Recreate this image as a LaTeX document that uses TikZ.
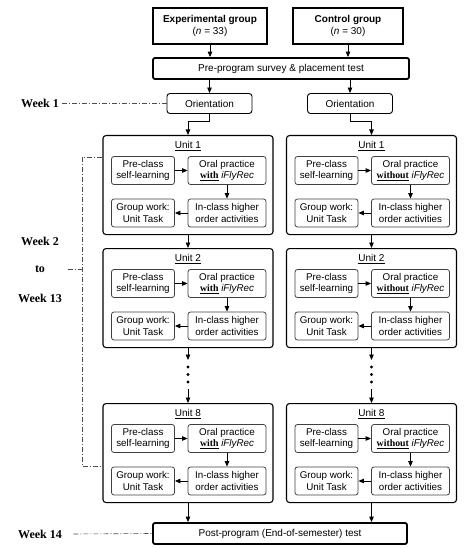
\documentclass[tikz,border=0pt]{standalone}
\usepackage{fontspec}
\setmainfont{Liberation Serif}
\setsansfont{Liberation Sans}
\usetikzlibrary{arrows.meta,calc}

\tikzset{
	grp/.style={draw, line width=1.2pt, minimum height=36pt, align=center, font=\sffamily\fontsize{10}{12}\selectfont},
	stage/.style={draw, line width=1.8pt, rounded corners=2pt, minimum height=21pt, font=\sffamily\fontsize{10}{12}\selectfont},
	orient/.style={draw, line width=0.9pt, rounded corners=3pt, minimum width=85pt, minimum height=20pt, font=\sffamily\fontsize{10}{12}\selectfont},
	unitbox/.style={draw, line width=1.1pt, rounded corners=3pt, minimum width=170pt, minimum height=99pt, anchor=north},
	task/.style={draw=black!75, text=black, line width=0.8pt, rounded corners=2.5pt, minimum height=28pt, align=center, inner sep=1pt, font=\sffamily\fontsize{9.8}{11.8}\selectfont},
	arr/.style={-{Triangle[length=5.5pt,width=4.5pt]}, line width=0.9pt},
	weekline/.style={black!70, line width=0.6pt, dash pattern=on 5pt off 2pt on 1pt off 2pt},
	week/.style={font=\bfseries\fontsize{12}{14}\selectfont}
}

\begin{document}
\begin{tikzpicture}[x=1pt,y=-1pt]
	\useasboundingbox (0,0) rectangle (474,548);

	% groups and pre-test
	\node[grp, minimum width=114pt] (expg) at (210,26) {\textbf{Experimental group}\\(\textit{n} = 33)};
	\node[grp, minimum width=110pt] (ctrg) at (348,26) {\textbf{Control group}\\(\textit{n} = 30)};
	\node[stage, minimum width=256pt] (pre) at (281,68.5) {Pre-program survey \& placement test};
	\draw[arr] (expg) -- (expg |- pre.north);
	\draw[arr] (ctrg) -- (ctrg |- pre.north);

	\node[orient] (ori1) at (209.5,103.5) {Orientation};
	\node[orient] (ori2) at (350,103.5) {Orientation};
	\draw[arr] (ori1 |- pre.south) -- (ori1.north);
	\draw[arr] (ori2 |- pre.south) -- (ori2.north);

	% units, both columns
	\foreach \c/\x/\w in {e/188/with, c/371.5/without}{
		\foreach \u/\y in {1/135, 2/248, 8/403}{
			\node[unitbox] (unit\c\u) at (\x,\y) {};
			\node[font=\sffamily\fontsize{10}{12}\selectfont] (lab\c\u) at (\x,\y+11) {\underline{Unit \u}};
			\node[task, minimum width=63pt] (pre\c\u) at (\x-45,\y+35.5) {Pre-class\\self-learning};
			\node[task, minimum width=78pt] (oral\c\u) at (\x+39,\y+35.5) {Oral practice\\{\rmfamily\bfseries\underline{\w}} \textit{iFlyRec}};
			\node[task, minimum width=63pt] (grp\c\u) at (\x-45,\y+78) {Group work:\\Unit Task};
			\node[task, minimum width=78pt] (cls\c\u) at (\x+39,\y+78) {In-class higher\\order activities};
			\draw[arr] (pre\c\u) -- (oral\c\u);
			\draw[arr] (oral\c\u) -- (cls\c\u);
			\draw[arr] (cls\c\u) -- (grp\c\u);
		}
		\draw[arr] (unit\c1.south) -- (unit\c2.north);
		\coordinate (dtop\c) at (\x,360);
		\coordinate (dbot\c) at (\x,389);
		\draw[arr] (unit\c2.south) -- (dtop\c);
		\foreach \d in {367,374.5,382}
			\fill (\x,\d) circle (1.6pt);
		\draw[arr] (dbot\c) -- (unit\c8.north);
	}
	\draw[arr] (ori1.south) -- ++(0,8) -| (unite1.north);
	\draw[arr] (ori2.south) -- ++(0,8) -| (unitc1.north);

	% post-test
	\node[stage, minimum width=254pt] (post) at (280,533.5) {Post-program (End-of-semester) test};
	\draw[arr] (unite8.south) -- (unite8.south |- post.north);
	\draw[arr] (unitc8.south) -- (unitc8.south |- post.north);

	% weeks
	\node[week] (wk1) at (40,103.5) {Week 1};
	\draw[weekline] (wk1.east) -- (ori1.west);
	\node[week] (wk2) at (40,241) {Week 2};
	\node[week] (wkto) at (40,269) {to};
	\node[week] (wk13) at (40,298) {Week 13};
	\coordinate (brtop) at (82,157);
	\coordinate (brbot) at (82,466);
	\coordinate (tostart) at (68,269);
	\draw[weekline] (unite1.west |- brtop) -- (brtop) -- (brbot) -- (unite8.west |- brbot);
	\draw[weekline] (tostart) -- (tostart -| brtop);
	\node[week] (wk14) at (40,534) {Week 14};
	\draw[weekline] ($(wk14.east)+(8,0)$) -- (post.west);
\end{tikzpicture}
\end{document}
